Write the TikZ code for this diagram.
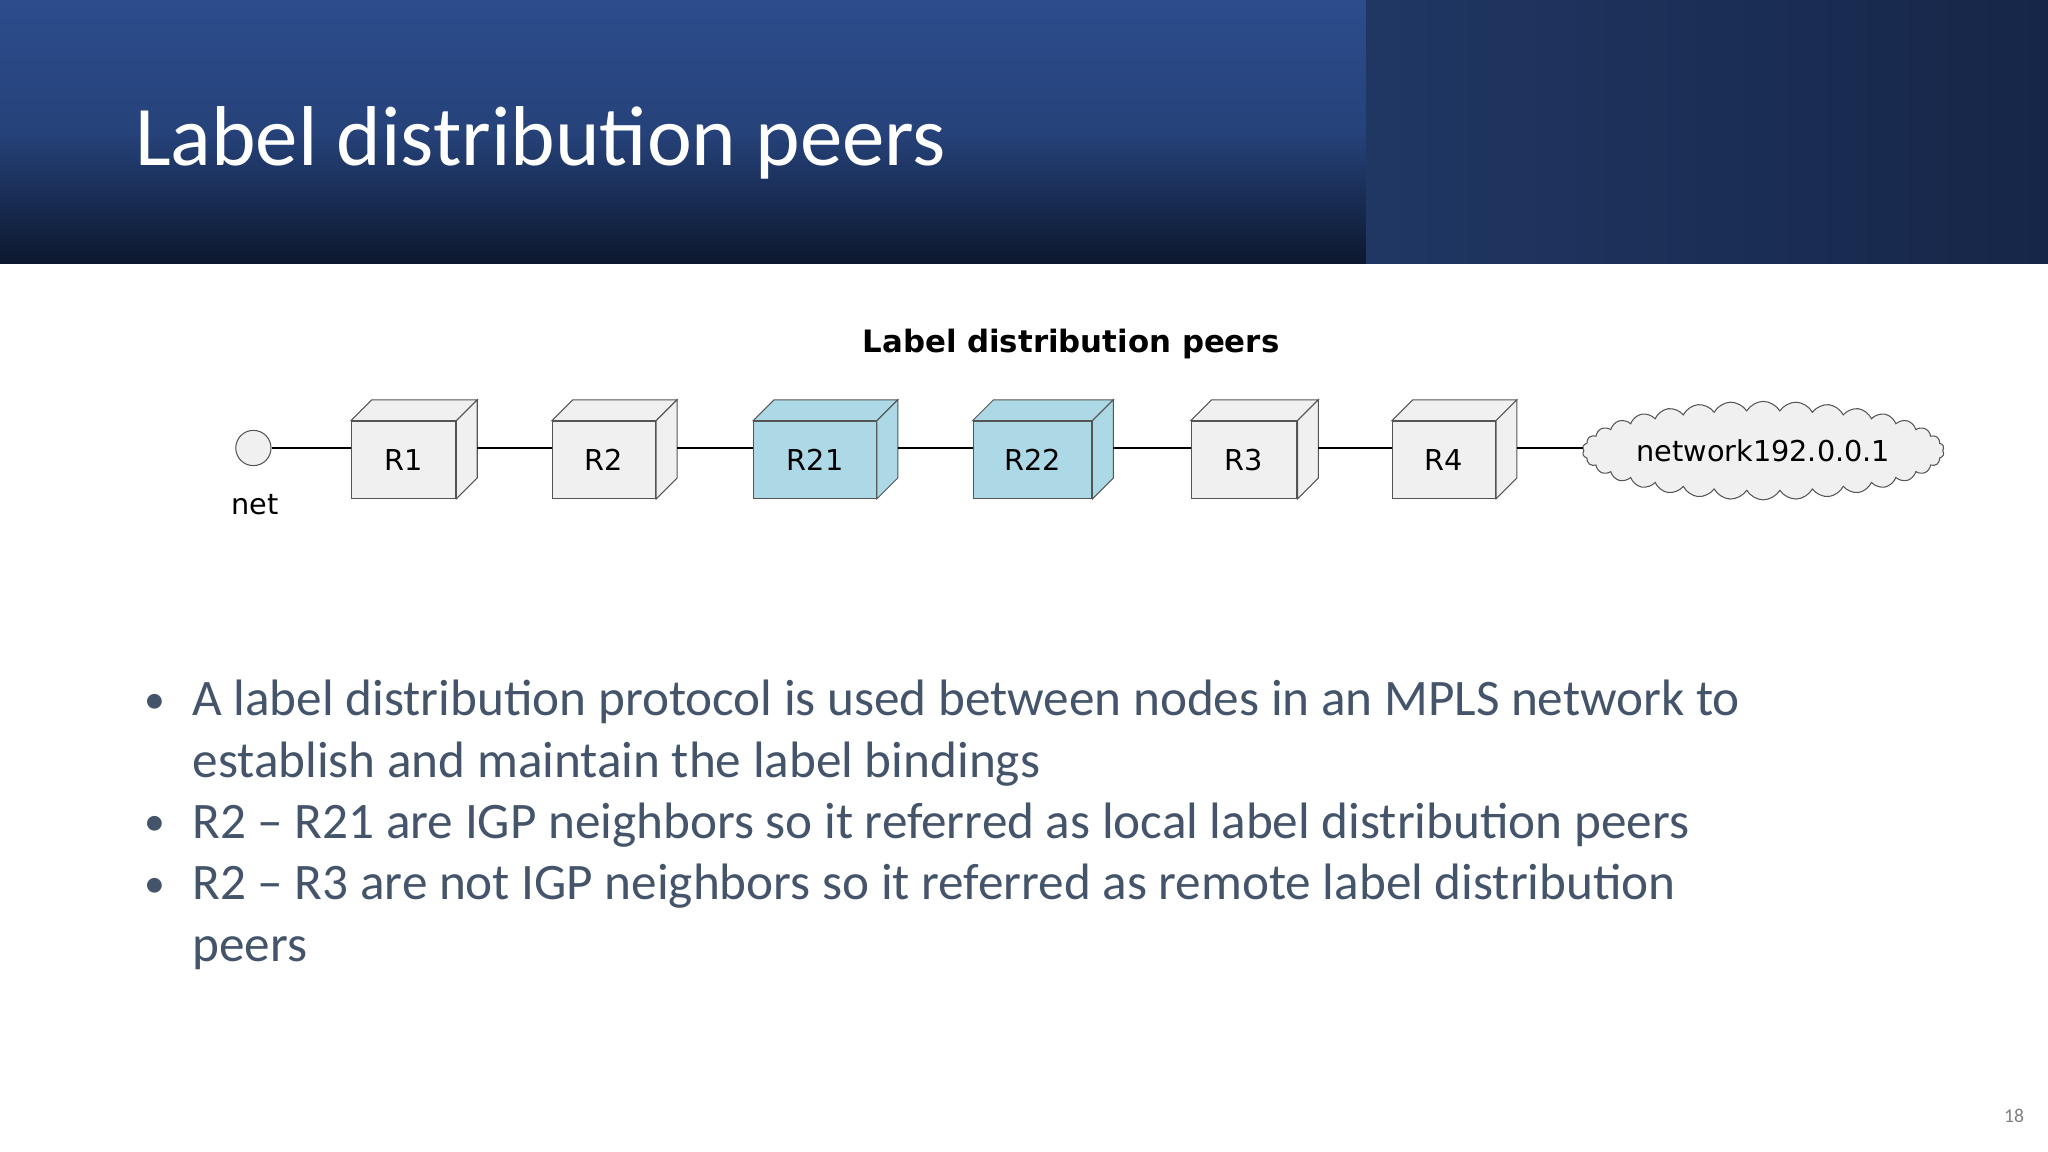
\documentclass[tikz,border=0pt]{standalone}
\usepackage{fontspec}
\setmainfont{Carlito}
\newfontfamily\djv{DejaVu Sans}
\usetikzlibrary{shapes.symbols,calc}
\definecolor{bul}{HTML}{44546A}
\definecolor{boxg}{HTML}{F0F0F0}
\definecolor{boxb}{HTML}{ADD8E6}
\definecolor{edg}{HTML}{555555}
\tikzset{
  rbox/.style={draw=edg,fill=boxg,minimum height=29.5pt,inner sep=0pt,font=\djv\fontsize{11}{13}\selectfont},
  bline/.style={anchor=base west,text=bul,font=\fontsize{19.6}{22}\selectfont,inner sep=0pt},
  link/.style={draw=black,line width=0.5pt}
}
\newcommand{\threed}[2]{%
  \fill[#2,draw=edg] (#1.north west) -- ++(16,-16) -- ($(#1.north east)+(16,-16)$) -- (#1.north east) -- cycle;
  \fill[#2,draw=edg] (#1.north east) -- ++(16,-16) -- ($(#1.south east)+(16,-16)$) -- (#1.south east) -- cycle;}
\begin{document}
\begin{tikzpicture}[x=0.5pt,y=-0.5pt]
\useasboundingbox (0,0) rectangle (1568,882);
\fill[white] (0,0) rectangle (1568,882);
\shade[top color={rgb,255:red,44;green,76;blue,140},bottom color={rgb,255:red,12;green,24;blue,46},middle color={rgb,255:red,38;green,66;blue,122}] (0,0) rectangle (1046,202);
\shade[left color={rgb,255:red,32;green,55;blue,100},right color={rgb,255:red,22;green,38;blue,72}] (1046,0) rectangle (1568,202);
\node[anchor=base west,text=white,font=\fontsize{32.5}{38}\selectfont,inner sep=0pt] (title) at (103,127) {Label distribution peers};
\node[font=\djv\bfseries\fontsize{11.8}{14}\selectfont] (dtitle) at (820,263) {Label distribution peers};
\node[circle,draw=edg,fill=boxg,minimum size=13.5pt,inner sep=0pt] (net) at (194,343) {};
\node[font=\djv\fontsize{11}{13}\selectfont] (netl) at (195,386) {net};
\node[rbox,minimum width=40pt] (r1) at (309,352) {R1};
\node[rbox,minimum width=39.5pt] (r2) at (462.5,352) {R2};
\node[rbox,fill=boxb,minimum width=47pt] (r21) at (624,352) {R21};
\node[rbox,fill=boxb,minimum width=45.5pt] (r22) at (790.5,352) {R22};
\node[rbox,minimum width=40.5pt] (r3) at (952.5,352) {R3};
\node[rbox,minimum width=39.5pt] (r4) at (1105.5,352) {R4};
\threed{r1}{boxg}\threed{r2}{boxg}\threed{r21}{boxb}\threed{r22}{boxb}\threed{r3}{boxg}\threed{r4}{boxg}
\node[cloud,cloud puffs=34,cloud puff arc=120,aspect=4.5,draw=edg,fill=boxg,minimum width=128pt,minimum height=32pt,inner sep=0pt,font=\djv\fontsize{11}{13}\selectfont] (cl) at (1350,345) {network192.0.0.1};
\draw[link] (net) -- (r1.west |- net);
\draw[link] ($(r1.east |- net)+(16,0)$) -- (r2.west |- net);
\draw[link] ($(r2.east |- net)+(16,0)$) -- (r21.west |- net);
\draw[link] ($(r21.east |- net)+(16,0)$) -- (r22.west |- net);
\draw[link] ($(r22.east |- net)+(16,0)$) -- (r3.west |- net);
\draw[link] ($(r3.east |- net)+(16,0)$) -- (r4.west |- net);
\draw[link] ($(r4.east |- net)+(16,0)$) -- (cl.west |- net);
\node[bline,font=\fontsize{16}{18}\selectfont] (b1) at (110,546) {•};
\node[bline] (l1) at (147,548) {A label distribution protocol is used between nodes in an MPLS network to};
\node[bline] (l2) at (147,595) {establish and maintain the label bindings};
\node[bline,font=\fontsize{16}{18}\selectfont] (b2) at (110,640) {•};
\node[bline] (l3) at (147,642) {R2 – R21 are IGP neighbors so it referred as local label distribution peers};
\node[bline,font=\fontsize{16}{18}\selectfont] (b3) at (110,687) {•};
\node[bline] (l4) at (147,689) {R2 – R3 are not IGP neighbors so it referred as remote label distribution};
\node[bline] (l5) at (147,736) {peers};
\node[text=gray,font=\fontsize{7.5}{9}\selectfont] (pg) at (1542,854) {18};
\end{tikzpicture}
\end{document}
